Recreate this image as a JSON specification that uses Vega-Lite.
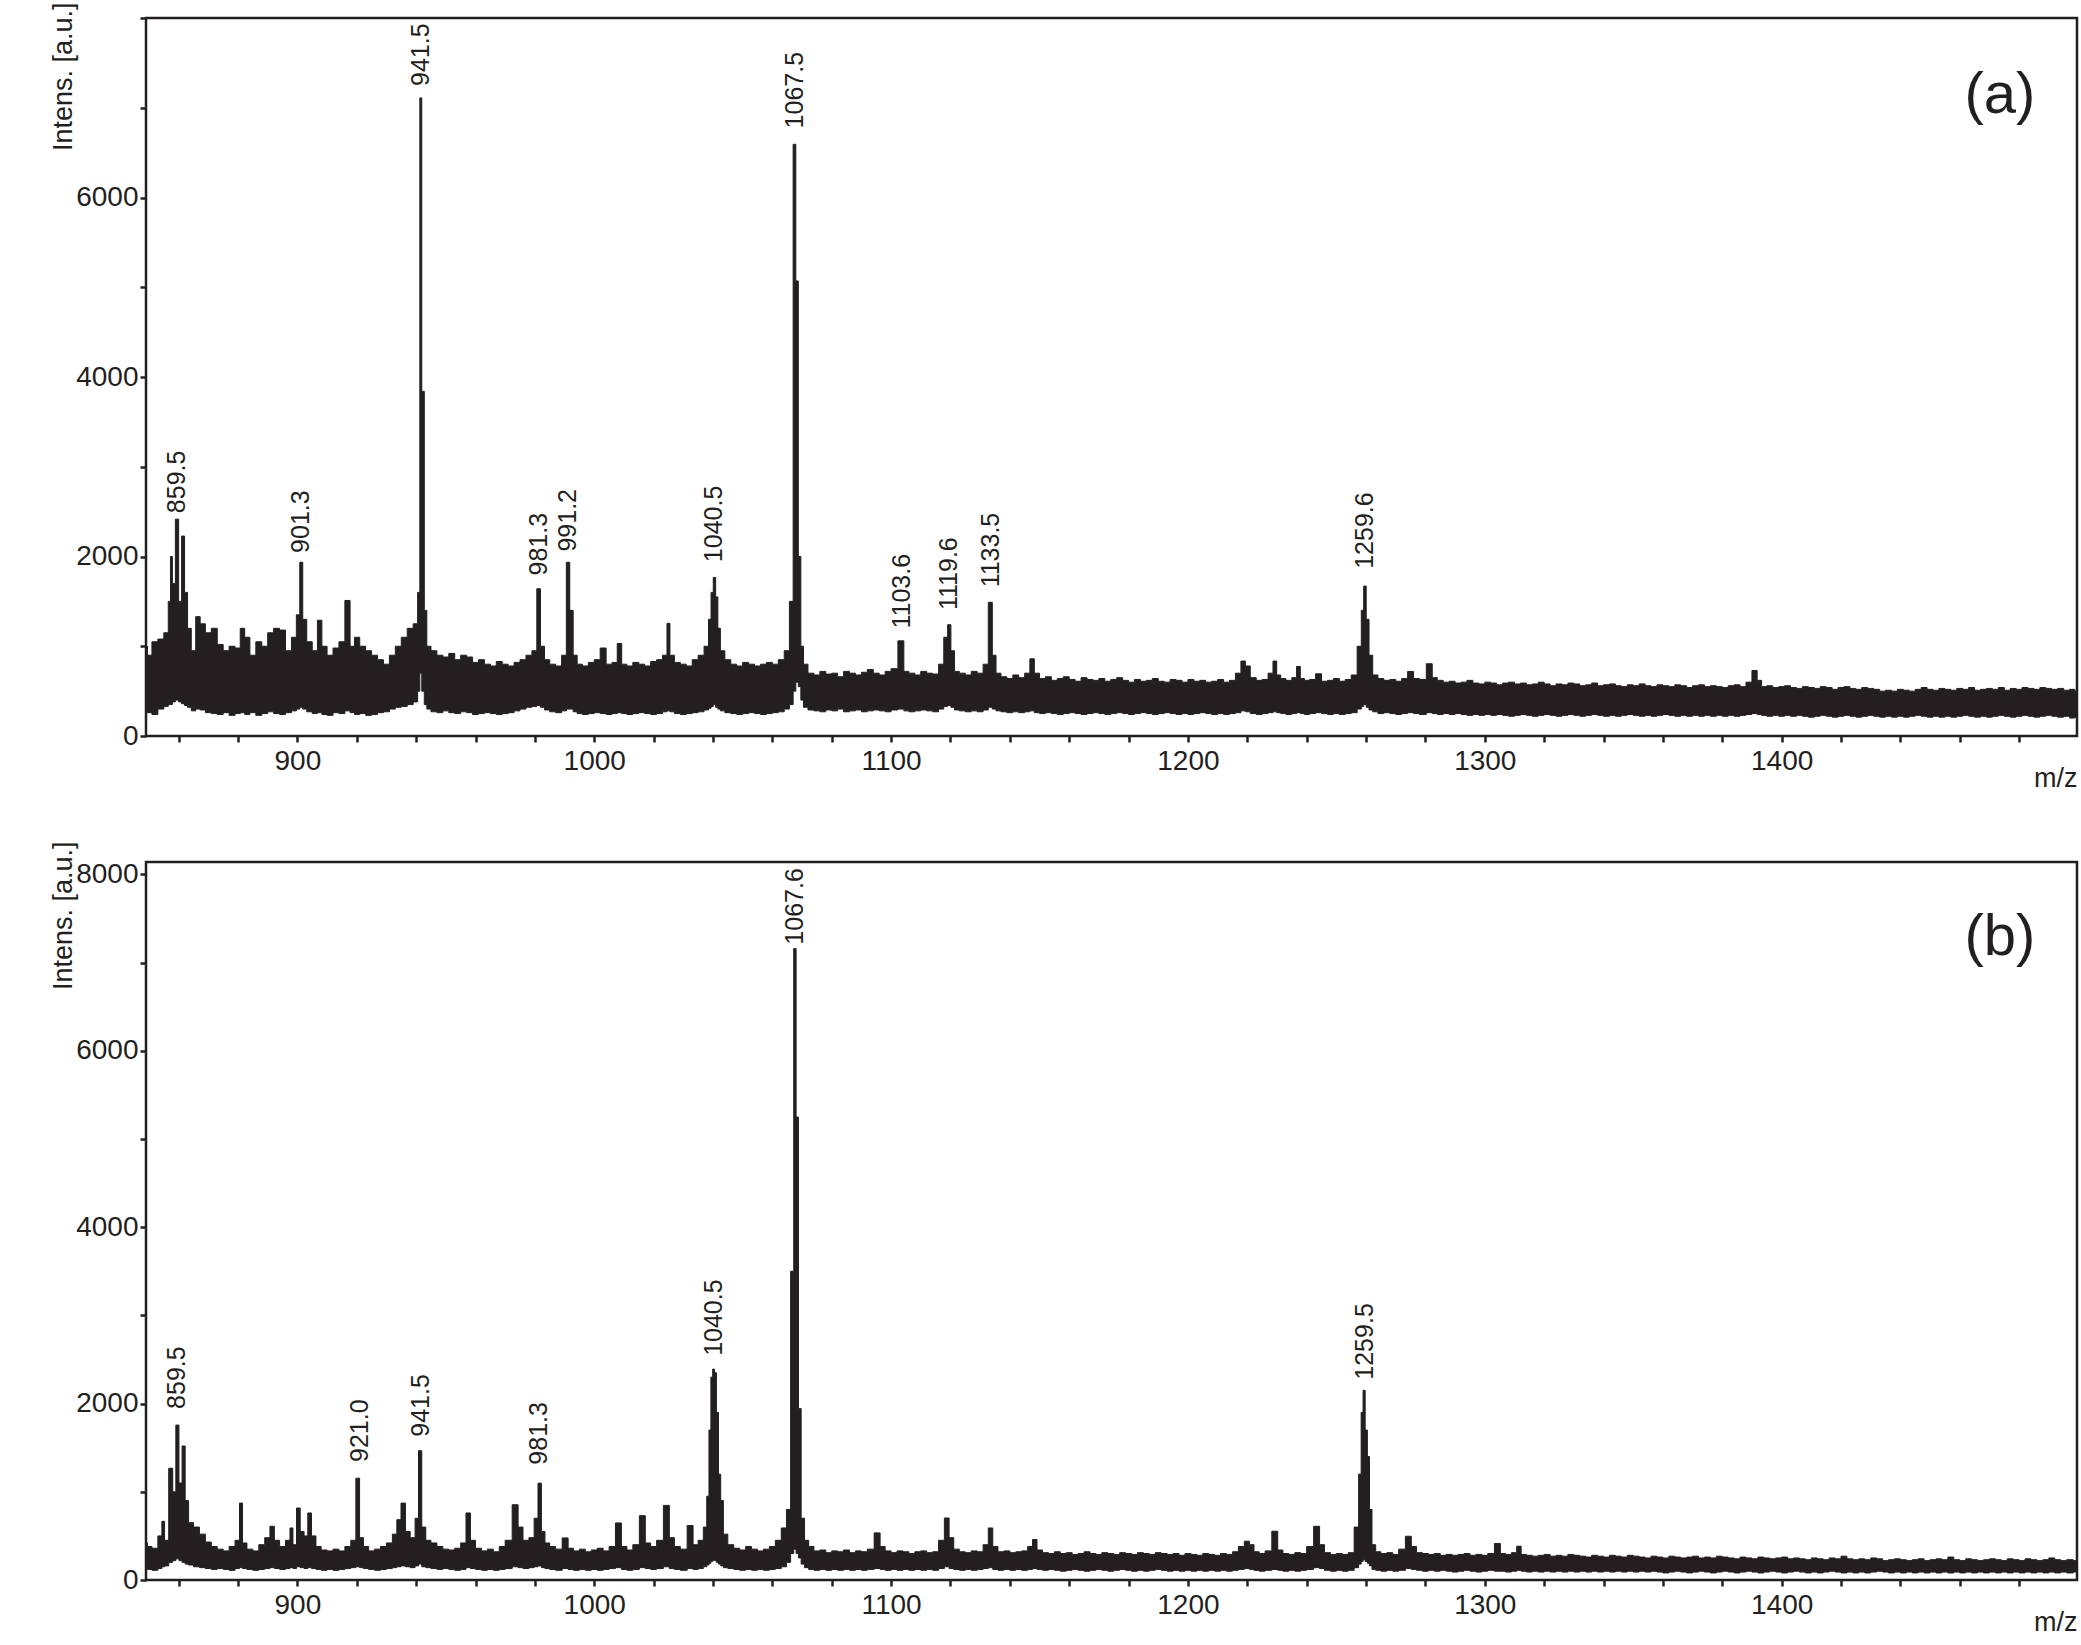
{
"$schema": "https://vega.github.io/schema/vega-lite/v6.json",
"background": "white",
"padding": {"left": 47, "top": 0, "right": 5, "bottom": 10},
"bounds": "flush",
"spacing": 126,
"config": {
  "font": "Liberation Sans Narrow, Liberation Sans, Arial",
  "view": {"stroke": "#231f20", "strokeWidth": 2.5},
  "axis": {"domain": false, "grid": false, "tickColor": "#231f20", "tickWidth": 2.5, "tickSize": 6, "labelColor": "#231f20", "labelFontSize": 28, "titleColor": "#231f20", "titleFontSize": 27, "titleFontWeight": "normal", "labelFont": "Liberation Sans Narrow, Liberation Sans, Arial", "titleFont": "Liberation Sans Narrow, Liberation Sans, Arial"}
},
"datasets": {
"a": [
{"mz":849,"lo":280,"hi":1000},{"mz":850,"lo":260,"hi":900},{"mz":852,"lo":240,"hi":1050},{"mz":854,"lo":300,"hi":1080},{"mz":856,"lo":330,"hi":1150},{"mz":857,"lo":350,"hi":1500},{"mz":857.5,"lo":350,"hi":2000},{"mz":858.3,"lo":380,"hi":1700},{"mz":859.5,"lo":400,"hi":2416},{"mz":860.5,"lo":380,"hi":1500},{"mz":861.5,"lo":360,"hi":2228},{"mz":862.5,"lo":340,"hi":1600},{"mz":863.5,"lo":320,"hi":1200},{"mz":865,"lo":280,"hi":950},{"mz":866.5,"lo":300,"hi":1330},{"mz":868,"lo":290,"hi":1250},{"mz":870,"lo":260,"hi":1150},{"mz":872,"lo":250,"hi":1200},{"mz":874,"lo":240,"hi":1020},{"mz":876,"lo":260,"hi":950},{"mz":878,"lo":230,"hi":1000},{"mz":880,"lo":250,"hi":980},{"mz":881.5,"lo":260,"hi":1200},{"mz":883,"lo":240,"hi":1100},{"mz":885,"lo":260,"hi":900},{"mz":887,"lo":230,"hi":1050},{"mz":889,"lo":250,"hi":1000},{"mz":891,"lo":270,"hi":1150},{"mz":893,"lo":250,"hi":1200},{"mz":895,"lo":240,"hi":1180},{"mz":897,"lo":260,"hi":950},{"mz":899,"lo":280,"hi":1100},{"mz":900.3,"lo":300,"hi":1350},{"mz":901.3,"lo":320,"hi":1936},{"mz":902.3,"lo":300,"hi":1300},{"mz":904,"lo":270,"hi":1050},{"mz":906,"lo":250,"hi":950},{"mz":907.5,"lo":260,"hi":1290},{"mz":909,"lo":240,"hi":1000},{"mz":911,"lo":230,"hi":900},{"mz":913,"lo":260,"hi":980},{"mz":915,"lo":250,"hi":1050},{"mz":917,"lo":280,"hi":1510},{"mz":918.5,"lo":260,"hi":1000},{"mz":920,"lo":240,"hi":1100},{"mz":922,"lo":250,"hi":1000},{"mz":924,"lo":230,"hi":950},{"mz":926,"lo":240,"hi":900},{"mz":928,"lo":260,"hi":850},{"mz":930,"lo":270,"hi":800},{"mz":932,"lo":300,"hi":900},{"mz":934,"lo":320,"hi":1000},{"mz":936,"lo":330,"hi":1100},{"mz":938,"lo":350,"hi":1200},{"mz":940,"lo":380,"hi":1250},{"mz":941,"lo":500,"hi":1600},{"mz":941.5,"lo":700,"hi":7110},{"mz":942.3,"lo":500,"hi":3840},{"mz":943.2,"lo":350,"hi":1400},{"mz":944,"lo":300,"hi":1000},{"mz":946,"lo":270,"hi":950},{"mz":948,"lo":260,"hi":900},{"mz":950,"lo":280,"hi":880},{"mz":952,"lo":260,"hi":920},{"mz":954,"lo":250,"hi":850},{"mz":956,"lo":270,"hi":900},{"mz":958,"lo":260,"hi":880},{"mz":960,"lo":240,"hi":820},{"mz":962,"lo":250,"hi":850},{"mz":964,"lo":260,"hi":800},{"mz":966,"lo":250,"hi":780},{"mz":968,"lo":240,"hi":830},{"mz":970,"lo":250,"hi":800},{"mz":972,"lo":260,"hi":780},{"mz":974,"lo":280,"hi":820},{"mz":976,"lo":300,"hi":850},{"mz":978,"lo":320,"hi":900},{"mz":980,"lo":330,"hi":950},{"mz":981.3,"lo":340,"hi":1640},{"mz":982.5,"lo":320,"hi":1000},{"mz":984,"lo":290,"hi":850},{"mz":986,"lo":270,"hi":800},{"mz":988,"lo":260,"hi":780},{"mz":990,"lo":280,"hi":900},{"mz":991.2,"lo":300,"hi":1936},{"mz":992.3,"lo":300,"hi":1400},{"mz":993.5,"lo":270,"hi":900},{"mz":995,"lo":250,"hi":800},{"mz":997,"lo":240,"hi":780},{"mz":999,"lo":250,"hi":820},{"mz":1001,"lo":260,"hi":850},{"mz":1003,"lo":250,"hi":980},{"mz":1005,"lo":240,"hi":800},{"mz":1007,"lo":250,"hi":820},{"mz":1008.5,"lo":260,"hi":1030},{"mz":1010,"lo":250,"hi":800},{"mz":1012,"lo":240,"hi":780},{"mz":1014,"lo":250,"hi":820},{"mz":1016,"lo":260,"hi":800},{"mz":1018,"lo":250,"hi":780},{"mz":1020,"lo":240,"hi":830},{"mz":1022,"lo":250,"hi":850},{"mz":1024,"lo":270,"hi":900},{"mz":1025,"lo":280,"hi":1255},{"mz":1026,"lo":270,"hi":900},{"mz":1028,"lo":250,"hi":820},{"mz":1030,"lo":240,"hi":800},{"mz":1032,"lo":250,"hi":780},{"mz":1034,"lo":260,"hi":850},{"mz":1036,"lo":270,"hi":900},{"mz":1038,"lo":290,"hi":1000},{"mz":1039,"lo":310,"hi":1300},{"mz":1039.7,"lo":330,"hi":1600},{"mz":1040.5,"lo":350,"hi":1767},{"mz":1041.3,"lo":320,"hi":1550},{"mz":1042,"lo":300,"hi":1200},{"mz":1043,"lo":280,"hi":950},{"mz":1045,"lo":260,"hi":850},{"mz":1047,"lo":250,"hi":800},{"mz":1049,"lo":240,"hi":780},{"mz":1051,"lo":250,"hi":820},{"mz":1053,"lo":260,"hi":800},{"mz":1055,"lo":250,"hi":780},{"mz":1057,"lo":240,"hi":800},{"mz":1059,"lo":250,"hi":820},{"mz":1061,"lo":260,"hi":800},{"mz":1063,"lo":270,"hi":850},{"mz":1065,"lo":300,"hi":950},{"mz":1066.5,"lo":350,"hi":1500},{"mz":1067.5,"lo":500,"hi":6593},{"mz":1068.3,"lo":600,"hi":5070},{"mz":1069.2,"lo":550,"hi":2000},{"mz":1070,"lo":400,"hi":1000},{"mz":1071,"lo":320,"hi":800},{"mz":1073,"lo":290,"hi":700},{"mz":1075,"lo":280,"hi":680},{"mz":1077,"lo":270,"hi":720},{"mz":1079,"lo":290,"hi":690},{"mz":1081,"lo":280,"hi":700},{"mz":1083,"lo":300,"hi":660},{"mz":1085,"lo":270,"hi":720},{"mz":1087,"lo":280,"hi":700},{"mz":1089,"lo":290,"hi":680},{"mz":1091,"lo":270,"hi":710},{"mz":1093,"lo":280,"hi":740},{"mz":1095,"lo":290,"hi":700},{"mz":1097,"lo":280,"hi":680},{"mz":1099,"lo":270,"hi":720},{"mz":1101,"lo":290,"hi":750},{"mz":1103.6,"lo":300,"hi":1060},{"mz":1105,"lo":280,"hi":720},{"mz":1107,"lo":270,"hi":700},{"mz":1109,"lo":280,"hi":680},{"mz":1111,"lo":290,"hi":720},{"mz":1113,"lo":280,"hi":700},{"mz":1115,"lo":270,"hi":690},{"mz":1117,"lo":300,"hi":800},{"mz":1118.5,"lo":330,"hi":1100},{"mz":1119.6,"lo":340,"hi":1240},{"mz":1120.7,"lo":320,"hi":950},{"mz":1122,"lo":290,"hi":720},{"mz":1124,"lo":280,"hi":700},{"mz":1126,"lo":270,"hi":680},{"mz":1128,"lo":280,"hi":720},{"mz":1130,"lo":270,"hi":700},{"mz":1132,"lo":290,"hi":800},{"mz":1133.5,"lo":320,"hi":1490},{"mz":1134.7,"lo":300,"hi":900},{"mz":1136,"lo":280,"hi":700},{"mz":1138,"lo":270,"hi":660},{"mz":1140,"lo":260,"hi":640},{"mz":1142,"lo":270,"hi":680},{"mz":1144,"lo":260,"hi":650},{"mz":1146,"lo":270,"hi":700},{"mz":1147.5,"lo":280,"hi":860},{"mz":1149,"lo":260,"hi":700},{"mz":1151,"lo":250,"hi":640},{"mz":1153,"lo":260,"hi":660},{"mz":1155,"lo":250,"hi":620},{"mz":1157,"lo":240,"hi":640},{"mz":1159,"lo":250,"hi":660},{"mz":1161,"lo":260,"hi":630},{"mz":1163,"lo":250,"hi":610},{"mz":1165,"lo":240,"hi":650},{"mz":1167,"lo":250,"hi":630},{"mz":1169,"lo":260,"hi":620},{"mz":1171,"lo":250,"hi":640},{"mz":1173,"lo":240,"hi":610},{"mz":1175,"lo":250,"hi":630},{"mz":1177,"lo":260,"hi":650},{"mz":1179,"lo":250,"hi":620},{"mz":1181,"lo":240,"hi":600},{"mz":1183,"lo":250,"hi":630},{"mz":1185,"lo":260,"hi":610},{"mz":1187,"lo":250,"hi":620},{"mz":1189,"lo":240,"hi":640},{"mz":1191,"lo":250,"hi":610},{"mz":1193,"lo":260,"hi":600},{"mz":1195,"lo":250,"hi":630},{"mz":1197,"lo":240,"hi":620},{"mz":1199,"lo":250,"hi":600},{"mz":1201,"lo":240,"hi":630},{"mz":1203,"lo":250,"hi":610},{"mz":1205,"lo":260,"hi":620},{"mz":1207,"lo":250,"hi":600},{"mz":1209,"lo":240,"hi":610},{"mz":1211,"lo":250,"hi":630},{"mz":1213,"lo":240,"hi":600},{"mz":1215,"lo":250,"hi":620},{"mz":1217,"lo":260,"hi":700},{"mz":1218.7,"lo":280,"hi":835},{"mz":1220,"lo":270,"hi":780},{"mz":1222,"lo":250,"hi":650},{"mz":1224,"lo":240,"hi":620},{"mz":1226,"lo":250,"hi":630},{"mz":1228,"lo":260,"hi":700},{"mz":1229.3,"lo":270,"hi":835},{"mz":1230.5,"lo":260,"hi":680},{"mz":1232,"lo":250,"hi":640},{"mz":1234,"lo":240,"hi":620},{"mz":1236,"lo":250,"hi":650},{"mz":1237.2,"lo":260,"hi":775},{"mz":1238.5,"lo":250,"hi":640},{"mz":1240,"lo":240,"hi":620},{"mz":1242,"lo":250,"hi":630},{"mz":1244,"lo":260,"hi":693},{"mz":1246,"lo":250,"hi":610},{"mz":1248,"lo":240,"hi":620},{"mz":1250,"lo":250,"hi":640},{"mz":1252,"lo":240,"hi":610},{"mz":1254,"lo":250,"hi":630},{"mz":1256,"lo":260,"hi":680},{"mz":1258,"lo":300,"hi":1000},{"mz":1258.8,"lo":330,"hi":1400},{"mz":1259.6,"lo":350,"hi":1670},{"mz":1260.5,"lo":320,"hi":1300},{"mz":1261.5,"lo":290,"hi":900},{"mz":1263,"lo":270,"hi":680},{"mz":1265,"lo":250,"hi":640},{"mz":1267,"lo":260,"hi":620},{"mz":1269,"lo":250,"hi":630},{"mz":1271,"lo":240,"hi":610},{"mz":1273,"lo":250,"hi":640},{"mz":1275,"lo":260,"hi":719},{"mz":1277,"lo":250,"hi":640},{"mz":1279,"lo":240,"hi":630},{"mz":1281.6,"lo":260,"hi":805},{"mz":1283,"lo":250,"hi":650},{"mz":1285,"lo":240,"hi":620},{"mz":1287,"lo":250,"hi":600},{"mz":1289,"lo":240,"hi":610},{"mz":1291,"lo":250,"hi":590},{"mz":1293,"lo":240,"hi":600},{"mz":1295,"lo":230,"hi":620},{"mz":1297,"lo":240,"hi":590},{"mz":1299,"lo":230,"hi":580},{"mz":1301,"lo":240,"hi":600},{"mz":1303,"lo":230,"hi":590},{"mz":1305,"lo":240,"hi":570},{"mz":1307,"lo":230,"hi":590},{"mz":1309,"lo":220,"hi":600},{"mz":1311,"lo":230,"hi":580},{"mz":1313,"lo":240,"hi":590},{"mz":1315,"lo":230,"hi":570},{"mz":1317,"lo":220,"hi":580},{"mz":1319,"lo":230,"hi":600},{"mz":1321,"lo":240,"hi":580},{"mz":1323,"lo":230,"hi":560},{"mz":1325,"lo":220,"hi":580},{"mz":1327,"lo":230,"hi":570},{"mz":1329,"lo":240,"hi":590},{"mz":1331,"lo":230,"hi":580},{"mz":1333,"lo":220,"hi":560},{"mz":1335,"lo":230,"hi":570},{"mz":1337,"lo":240,"hi":590},{"mz":1339,"lo":230,"hi":560},{"mz":1341,"lo":220,"hi":570},{"mz":1343,"lo":230,"hi":580},{"mz":1345,"lo":220,"hi":560},{"mz":1347,"lo":230,"hi":550},{"mz":1349,"lo":240,"hi":570},{"mz":1351,"lo":230,"hi":560},{"mz":1353,"lo":220,"hi":580},{"mz":1355,"lo":230,"hi":560},{"mz":1357,"lo":220,"hi":550},{"mz":1359,"lo":230,"hi":570},{"mz":1361,"lo":240,"hi":560},{"mz":1363,"lo":230,"hi":550},{"mz":1365,"lo":220,"hi":570},{"mz":1367,"lo":230,"hi":560},{"mz":1369,"lo":220,"hi":540},{"mz":1371,"lo":230,"hi":560},{"mz":1373,"lo":220,"hi":570},{"mz":1375,"lo":230,"hi":550},{"mz":1377,"lo":220,"hi":560},{"mz":1379,"lo":230,"hi":550},{"mz":1381,"lo":220,"hi":540},{"mz":1383,"lo":230,"hi":560},{"mz":1385,"lo":220,"hi":570},{"mz":1387,"lo":230,"hi":550},{"mz":1389,"lo":240,"hi":600},{"mz":1391,"lo":250,"hi":730},{"mz":1392.5,"lo":240,"hi":620},{"mz":1394,"lo":230,"hi":550},{"mz":1396,"lo":220,"hi":560},{"mz":1398,"lo":230,"hi":540},{"mz":1400,"lo":220,"hi":550},{"mz":1402,"lo":230,"hi":560},{"mz":1404,"lo":220,"hi":540},{"mz":1406,"lo":230,"hi":530},{"mz":1408,"lo":220,"hi":550},{"mz":1410,"lo":210,"hi":540},{"mz":1412,"lo":220,"hi":530},{"mz":1414,"lo":230,"hi":550},{"mz":1416,"lo":220,"hi":540},{"mz":1418,"lo":210,"hi":520},{"mz":1420,"lo":220,"hi":540},{"mz":1422,"lo":230,"hi":550},{"mz":1424,"lo":220,"hi":530},{"mz":1426,"lo":210,"hi":520},{"mz":1428,"lo":220,"hi":540},{"mz":1430,"lo":230,"hi":530},{"mz":1432,"lo":220,"hi":520},{"mz":1434,"lo":210,"hi":500},{"mz":1436,"lo":220,"hi":510},{"mz":1438,"lo":210,"hi":500},{"mz":1440,"lo":220,"hi":520},{"mz":1442,"lo":210,"hi":510},{"mz":1444,"lo":220,"hi":500},{"mz":1446,"lo":230,"hi":520},{"mz":1448,"lo":220,"hi":540},{"mz":1450,"lo":210,"hi":520},{"mz":1452,"lo":220,"hi":510},{"mz":1454,"lo":210,"hi":530},{"mz":1456,"lo":220,"hi":520},{"mz":1458,"lo":210,"hi":510},{"mz":1460,"lo":220,"hi":530},{"mz":1462,"lo":230,"hi":520},{"mz":1464,"lo":220,"hi":540},{"mz":1466,"lo":210,"hi":510},{"mz":1468,"lo":220,"hi":520},{"mz":1470,"lo":210,"hi":530},{"mz":1472,"lo":220,"hi":520},{"mz":1474,"lo":230,"hi":540},{"mz":1476,"lo":220,"hi":510},{"mz":1478,"lo":210,"hi":530},{"mz":1480,"lo":220,"hi":520},{"mz":1482,"lo":230,"hi":540},{"mz":1484,"lo":220,"hi":530},{"mz":1486,"lo":210,"hi":520},{"mz":1488,"lo":220,"hi":540},{"mz":1490,"lo":230,"hi":530},{"mz":1492,"lo":220,"hi":520},{"mz":1494,"lo":210,"hi":530},{"mz":1496,"lo":220,"hi":510},{"mz":1498,"lo":200,"hi":520},{"mz":1499.5,"lo":210,"hi":500}
],
"b": [
{"mz":849,"lo":130,"hi":420},{"mz":850,"lo":120,"hi":380},{"mz":852,"lo":110,"hi":360},{"mz":854,"lo":130,"hi":500},{"mz":854.7,"lo":150,"hi":665},{"mz":855.8,"lo":160,"hi":450},{"mz":857.5,"lo":200,"hi":1267},{"mz":858.5,"lo":220,"hi":1000},{"mz":859.6,"lo":240,"hi":1756},{"mz":860.6,"lo":220,"hi":1100},{"mz":861.7,"lo":200,"hi":1519},{"mz":862.7,"lo":180,"hi":900},{"mz":864,"lo":170,"hi":650},{"mz":866,"lo":150,"hi":600},{"mz":868,"lo":140,"hi":520},{"mz":870,"lo":130,"hi":430},{"mz":872,"lo":120,"hi":380},{"mz":874,"lo":130,"hi":350},{"mz":876,"lo":120,"hi":330},{"mz":878,"lo":110,"hi":380},{"mz":880,"lo":130,"hi":450},{"mz":881,"lo":140,"hi":872},{"mz":882,"lo":130,"hi":420},{"mz":884,"lo":120,"hi":350},{"mz":886,"lo":110,"hi":330},{"mz":888,"lo":120,"hi":400},{"mz":890,"lo":130,"hi":480},{"mz":891.5,"lo":140,"hi":609},{"mz":893,"lo":130,"hi":450},{"mz":895,"lo":120,"hi":380},{"mz":897,"lo":130,"hi":450},{"mz":898,"lo":140,"hi":590},{"mz":899,"lo":130,"hi":400},{"mz":900.4,"lo":150,"hi":816},{"mz":901.5,"lo":140,"hi":550},{"mz":903,"lo":130,"hi":500},{"mz":904,"lo":140,"hi":760},{"mz":905.5,"lo":130,"hi":500},{"mz":907,"lo":120,"hi":380},{"mz":909,"lo":110,"hi":340},{"mz":911,"lo":120,"hi":330},{"mz":913,"lo":110,"hi":350},{"mz":915,"lo":120,"hi":330},{"mz":917,"lo":130,"hi":380},{"mz":919,"lo":140,"hi":450},{"mz":920.4,"lo":150,"hi":1154},{"mz":921.5,"lo":140,"hi":480},{"mz":923,"lo":130,"hi":380},{"mz":925,"lo":120,"hi":330},{"mz":927,"lo":110,"hi":350},{"mz":929,"lo":120,"hi":380},{"mz":931,"lo":130,"hi":420},{"mz":933,"lo":140,"hi":520},{"mz":934,"lo":150,"hi":684},{"mz":935.8,"lo":160,"hi":872},{"mz":937,"lo":150,"hi":550},{"mz":939,"lo":140,"hi":480},{"mz":940.3,"lo":160,"hi":700},{"mz":941.3,"lo":180,"hi":1466},{"mz":942.5,"lo":150,"hi":600},{"mz":944,"lo":140,"hi":450},{"mz":946,"lo":130,"hi":420},{"mz":948,"lo":120,"hi":380},{"mz":950,"lo":130,"hi":350},{"mz":952,"lo":120,"hi":340},{"mz":954,"lo":110,"hi":360},{"mz":956,"lo":120,"hi":420},{"mz":957.6,"lo":140,"hi":760},{"mz":959,"lo":130,"hi":450},{"mz":961,"lo":120,"hi":360},{"mz":963,"lo":110,"hi":330},{"mz":965,"lo":120,"hi":350},{"mz":967,"lo":110,"hi":320},{"mz":969,"lo":120,"hi":380},{"mz":971,"lo":130,"hi":450},{"mz":973.7,"lo":150,"hi":853},{"mz":975,"lo":140,"hi":600},{"mz":977,"lo":130,"hi":450},{"mz":979,"lo":140,"hi":480},{"mz":980.5,"lo":150,"hi":700},{"mz":981.6,"lo":160,"hi":1098},{"mz":982.8,"lo":140,"hi":550},{"mz":984,"lo":130,"hi":420},{"mz":986,"lo":120,"hi":380},{"mz":988,"lo":110,"hi":350},{"mz":990.4,"lo":130,"hi":477},{"mz":992,"lo":120,"hi":360},{"mz":994,"lo":110,"hi":330},{"mz":996,"lo":120,"hi":350},{"mz":998,"lo":110,"hi":320},{"mz":1000,"lo":120,"hi":340},{"mz":1002,"lo":110,"hi":360},{"mz":1004,"lo":120,"hi":330},{"mz":1006,"lo":130,"hi":380},{"mz":1008.3,"lo":140,"hi":647},{"mz":1010,"lo":120,"hi":380},{"mz":1012,"lo":110,"hi":340},{"mz":1014,"lo":120,"hi":400},{"mz":1016.4,"lo":140,"hi":729},{"mz":1018,"lo":130,"hi":420},{"mz":1020,"lo":120,"hi":380},{"mz":1022,"lo":130,"hi":450},{"mz":1024.6,"lo":150,"hi":846},{"mz":1026,"lo":130,"hi":480},{"mz":1028,"lo":120,"hi":380},{"mz":1030,"lo":110,"hi":350},{"mz":1032.6,"lo":130,"hi":617},{"mz":1034,"lo":120,"hi":400},{"mz":1036,"lo":130,"hi":450},{"mz":1037.5,"lo":150,"hi":600},{"mz":1038.3,"lo":170,"hi":950},{"mz":1039,"lo":190,"hi":1700},{"mz":1039.6,"lo":210,"hi":2300},{"mz":1040.2,"lo":220,"hi":2391},{"mz":1040.8,"lo":220,"hi":2350},{"mz":1041.5,"lo":200,"hi":1900},{"mz":1042.2,"lo":180,"hi":1200},{"mz":1043,"lo":160,"hi":900},{"mz":1044,"lo":140,"hi":520},{"mz":1046,"lo":130,"hi":400},{"mz":1048,"lo":120,"hi":360},{"mz":1050,"lo":110,"hi":340},{"mz":1052,"lo":120,"hi":380},{"mz":1054,"lo":110,"hi":350},{"mz":1056,"lo":120,"hi":330},{"mz":1058,"lo":110,"hi":350},{"mz":1060,"lo":120,"hi":380},{"mz":1062,"lo":130,"hi":450},{"mz":1064,"lo":150,"hi":590},{"mz":1065.5,"lo":200,"hi":800},{"mz":1066.8,"lo":300,"hi":3500},{"mz":1067.6,"lo":350,"hi":7158},{"mz":1068.4,"lo":300,"hi":5248},{"mz":1069.2,"lo":250,"hi":1943},{"mz":1070.2,"lo":180,"hi":700},{"mz":1071.5,"lo":140,"hi":450},{"mz":1073,"lo":120,"hi":380},{"mz":1075,"lo":110,"hi":330},{"mz":1077,"lo":120,"hi":340},{"mz":1079,"lo":110,"hi":310},{"mz":1081,"lo":120,"hi":330},{"mz":1083,"lo":110,"hi":320},{"mz":1085,"lo":120,"hi":340},{"mz":1087,"lo":110,"hi":310},{"mz":1089,"lo":120,"hi":330},{"mz":1091,"lo":110,"hi":320},{"mz":1093,"lo":120,"hi":350},{"mz":1095.6,"lo":130,"hi":534},{"mz":1097,"lo":120,"hi":380},{"mz":1099,"lo":110,"hi":330},{"mz":1101,"lo":120,"hi":310},{"mz":1103,"lo":110,"hi":330},{"mz":1105,"lo":120,"hi":320},{"mz":1107,"lo":110,"hi":300},{"mz":1109,"lo":120,"hi":320},{"mz":1111,"lo":110,"hi":330},{"mz":1113,"lo":120,"hi":310},{"mz":1115,"lo":110,"hi":320},{"mz":1117,"lo":130,"hi":450},{"mz":1118.9,"lo":150,"hi":703},{"mz":1120.2,"lo":130,"hi":480},{"mz":1122,"lo":120,"hi":350},{"mz":1124,"lo":110,"hi":320},{"mz":1126,"lo":120,"hi":310},{"mz":1128,"lo":110,"hi":330},{"mz":1130,"lo":120,"hi":320},{"mz":1132,"lo":130,"hi":400},{"mz":1133.5,"lo":140,"hi":590},{"mz":1135,"lo":120,"hi":380},{"mz":1137,"lo":110,"hi":320},{"mz":1139,"lo":120,"hi":330},{"mz":1141,"lo":110,"hi":310},{"mz":1143,"lo":120,"hi":320},{"mz":1145,"lo":110,"hi":330},{"mz":1147,"lo":120,"hi":380},{"mz":1148.3,"lo":130,"hi":459},{"mz":1150,"lo":120,"hi":340},{"mz":1152,"lo":110,"hi":310},{"mz":1154,"lo":120,"hi":300},{"mz":1156,"lo":110,"hi":320},{"mz":1158,"lo":100,"hi":300},{"mz":1160,"lo":110,"hi":310},{"mz":1162,"lo":120,"hi":290},{"mz":1164,"lo":110,"hi":300},{"mz":1166,"lo":100,"hi":320},{"mz":1168,"lo":110,"hi":300},{"mz":1170,"lo":120,"hi":290},{"mz":1172,"lo":110,"hi":310},{"mz":1174,"lo":100,"hi":300},{"mz":1176,"lo":110,"hi":290},{"mz":1178,"lo":120,"hi":310},{"mz":1180,"lo":110,"hi":300},{"mz":1182,"lo":100,"hi":290},{"mz":1184,"lo":110,"hi":310},{"mz":1186,"lo":100,"hi":300},{"mz":1188,"lo":110,"hi":290},{"mz":1190,"lo":120,"hi":310},{"mz":1192,"lo":110,"hi":300},{"mz":1194,"lo":100,"hi":290},{"mz":1196,"lo":110,"hi":300},{"mz":1198,"lo":100,"hi":280},{"mz":1200,"lo":110,"hi":300},{"mz":1202,"lo":100,"hi":290},{"mz":1204,"lo":110,"hi":280},{"mz":1206,"lo":100,"hi":300},{"mz":1208,"lo":110,"hi":290},{"mz":1210,"lo":100,"hi":280},{"mz":1212,"lo":110,"hi":300},{"mz":1214,"lo":100,"hi":290},{"mz":1216,"lo":110,"hi":320},{"mz":1218,"lo":120,"hi":380},{"mz":1220,"lo":130,"hi":440},{"mz":1221.5,"lo":120,"hi":400},{"mz":1223,"lo":110,"hi":320},{"mz":1225,"lo":100,"hi":300},{"mz":1227,"lo":110,"hi":330},{"mz":1229.5,"lo":120,"hi":553},{"mz":1231,"lo":110,"hi":340},{"mz":1233,"lo":100,"hi":300},{"mz":1235,"lo":110,"hi":290},{"mz":1237,"lo":100,"hi":310},{"mz":1239,"lo":110,"hi":300},{"mz":1241,"lo":120,"hi":380},{"mz":1243.7,"lo":140,"hi":609},{"mz":1245,"lo":130,"hi":400},{"mz":1247,"lo":110,"hi":310},{"mz":1249,"lo":100,"hi":290},{"mz":1251,"lo":110,"hi":300},{"mz":1253,"lo":100,"hi":290},{"mz":1255,"lo":110,"hi":310},{"mz":1257,"lo":140,"hi":600},{"mz":1258,"lo":180,"hi":1200},{"mz":1258.7,"lo":210,"hi":1900},{"mz":1259.3,"lo":230,"hi":2150},{"mz":1260.1,"lo":210,"hi":1700},{"mz":1260.8,"lo":190,"hi":1400},{"mz":1261.5,"lo":160,"hi":800},{"mz":1262.5,"lo":120,"hi":400},{"mz":1264,"lo":110,"hi":320},{"mz":1266,"lo":100,"hi":300},{"mz":1268,"lo":110,"hi":310},{"mz":1270,"lo":100,"hi":290},{"mz":1272,"lo":110,"hi":350},{"mz":1274.5,"lo":130,"hi":496},{"mz":1276,"lo":120,"hi":380},{"mz":1278,"lo":110,"hi":310},{"mz":1280,"lo":100,"hi":300},{"mz":1282,"lo":110,"hi":290},{"mz":1284,"lo":100,"hi":300},{"mz":1286,"lo":110,"hi":280},{"mz":1288,"lo":100,"hi":290},{"mz":1290,"lo":90,"hi":280},{"mz":1292,"lo":100,"hi":290},{"mz":1294,"lo":110,"hi":300},{"mz":1296,"lo":100,"hi":280},{"mz":1298,"lo":90,"hi":290},{"mz":1300,"lo":100,"hi":280},{"mz":1302,"lo":110,"hi":300},{"mz":1304.5,"lo":100,"hi":414},{"mz":1306,"lo":100,"hi":300},{"mz":1308,"lo":90,"hi":290},{"mz":1310,"lo":100,"hi":310},{"mz":1311.5,"lo":110,"hi":383},{"mz":1313,"lo":100,"hi":290},{"mz":1315,"lo":90,"hi":280},{"mz":1317,"lo":100,"hi":270},{"mz":1319,"lo":90,"hi":280},{"mz":1321,"lo":100,"hi":290},{"mz":1323,"lo":90,"hi":270},{"mz":1325,"lo":100,"hi":280},{"mz":1327,"lo":90,"hi":270},{"mz":1329,"lo":100,"hi":290},{"mz":1331,"lo":90,"hi":280},{"mz":1333,"lo":100,"hi":270},{"mz":1335,"lo":90,"hi":260},{"mz":1337,"lo":100,"hi":280},{"mz":1339,"lo":90,"hi":270},{"mz":1341,"lo":100,"hi":260},{"mz":1343,"lo":90,"hi":280},{"mz":1345,"lo":100,"hi":270},{"mz":1347,"lo":90,"hi":260},{"mz":1349,"lo":100,"hi":280},{"mz":1351,"lo":90,"hi":270},{"mz":1353,"lo":100,"hi":260},{"mz":1355,"lo":90,"hi":250},{"mz":1357,"lo":100,"hi":270},{"mz":1359,"lo":90,"hi":260},{"mz":1361,"lo":80,"hi":250},{"mz":1363,"lo":90,"hi":270},{"mz":1365,"lo":100,"hi":260},{"mz":1367,"lo":90,"hi":250},{"mz":1369,"lo":80,"hi":260},{"mz":1371,"lo":90,"hi":270},{"mz":1373,"lo":100,"hi":250},{"mz":1375,"lo":90,"hi":260},{"mz":1377,"lo":80,"hi":250},{"mz":1379,"lo":90,"hi":270},{"mz":1381,"lo":100,"hi":260},{"mz":1383,"lo":90,"hi":250},{"mz":1385,"lo":80,"hi":240},{"mz":1387,"lo":90,"hi":260},{"mz":1389,"lo":100,"hi":250},{"mz":1391,"lo":90,"hi":240},{"mz":1393,"lo":80,"hi":260},{"mz":1395,"lo":90,"hi":250},{"mz":1397,"lo":100,"hi":240},{"mz":1399,"lo":90,"hi":250},{"mz":1401,"lo":80,"hi":260},{"mz":1403,"lo":90,"hi":240},{"mz":1405,"lo":100,"hi":250},{"mz":1407,"lo":90,"hi":240},{"mz":1409,"lo":80,"hi":230},{"mz":1411,"lo":90,"hi":250},{"mz":1413,"lo":80,"hi":240},{"mz":1415,"lo":90,"hi":230},{"mz":1417,"lo":100,"hi":250},{"mz":1419,"lo":90,"hi":240},{"mz":1421,"lo":80,"hi":270},{"mz":1423,"lo":90,"hi":240},{"mz":1425,"lo":80,"hi":230},{"mz":1427,"lo":90,"hi":240},{"mz":1429,"lo":80,"hi":230},{"mz":1431,"lo":90,"hi":250},{"mz":1433,"lo":100,"hi":240},{"mz":1435,"lo":90,"hi":220},{"mz":1437,"lo":80,"hi":230},{"mz":1439,"lo":90,"hi":240},{"mz":1441,"lo":80,"hi":230},{"mz":1443,"lo":90,"hi":220},{"mz":1445,"lo":80,"hi":230},{"mz":1447,"lo":90,"hi":240},{"mz":1449,"lo":80,"hi":220},{"mz":1451,"lo":90,"hi":230},{"mz":1453,"lo":80,"hi":240},{"mz":1455,"lo":90,"hi":230},{"mz":1457,"lo":80,"hi":260},{"mz":1459,"lo":90,"hi":230},{"mz":1461,"lo":80,"hi":220},{"mz":1463,"lo":90,"hi":240},{"mz":1465,"lo":80,"hi":230},{"mz":1467,"lo":90,"hi":220},{"mz":1469,"lo":80,"hi":230},{"mz":1471,"lo":90,"hi":240},{"mz":1473,"lo":80,"hi":230},{"mz":1475,"lo":90,"hi":220},{"mz":1477,"lo":80,"hi":240},{"mz":1479,"lo":90,"hi":230},{"mz":1481,"lo":80,"hi":220},{"mz":1483,"lo":90,"hi":240},{"mz":1485,"lo":80,"hi":230},{"mz":1487,"lo":90,"hi":220},{"mz":1489,"lo":80,"hi":230},{"mz":1491,"lo":90,"hi":250},{"mz":1493,"lo":80,"hi":230},{"mz":1495,"lo":90,"hi":220},{"mz":1497,"lo":80,"hi":230},{"mz":1499.5,"lo":90,"hi":220}
],
"la": [
{"mz":859.5,"ly":2483,"t":"859.5"},{"mz":901.3,"ly":2040,"t":"901.3"},{"mz":941.5,"ly":7243,"t":"941.5"},{"mz":981.3,"ly":1789,"t":"981.3"},{"mz":991.2,"ly":2055,"t":"991.2"},{"mz":1040.5,"ly":1937,"t":"1040.5"},{"mz":1067.5,"ly":6770,"t":"1067.5"},{"mz":1103.6,"ly":1197,"t":"1103.6"},{"mz":1119.6,"ly":1404,"t":"1119.6"},{"mz":1133.5,"ly":1656,"t":"1133.5"},{"mz":1259.6,"ly":1863,"t":"1259.6"}
],
"lb": [
{"mz":859.5,"ly":1940,"t":"859.5"},{"mz":921.0,"ly":1338,"t":"921.0"},{"mz":941.5,"ly":1624,"t":"941.5"},{"mz":981.3,"ly":1308,"t":"981.3"},{"mz":1040.5,"ly":2541,"t":"1040.5"},{"mz":1067.6,"ly":7203,"t":"1067.6"},{"mz":1259.5,"ly":2271,"t":"1259.5"}
],
"pa": [{"mz":1473.5,"ly":7130,"t":"(a)"}],
"pb": [{"mz":1473.5,"ly":7280,"t":"(b)"}]
},
"vconcat": [
{
 "width": 1931, "height": 718,
 "layer": [
  {"data": {"name": "a"},
   "mark": {"type": "area", "interpolate": "step", "color": "#231f20", "stroke": "#231f20", "strokeWidth": 1, "clip": true},
   "encoding": {
     "x": {"field": "mz", "type": "quantitative", "scale": {"domain": [849, 1499.5], "nice": false, "zero": false},
           "axis": {"title": "m/z", "format": "d", "values": [860,880,900,920,940,960,980,1000,1020,1040,1060,1080,1100,1120,1140,1160,1180,1200,1220,1240,1260,1280,1300,1320,1340,1360,1380,1400,1420,1440,1460,1480], "labelExpr": "datum.value % 100 === 0 ? datum.label : ''", "labelPadding": 5, "labelFlush": false, "titleAnchor": "end", "titleAlign": "right", "titleX": 1931, "titleY": 50, "titleBaseline": "alphabetic"}},
     "y": {"field": "hi", "type": "quantitative", "scale": {"domain": [0, 8000], "nice": false},
           "axis": {"title": "Intens. [a.u.]", "format": "d", "values": [0,1000,2000,3000,4000,5000,6000,7000,8000], "labelExpr": "datum.value % 2000 === 0 && datum.value < 8000 ? datum.label : ''", "labelPadding": 2, "labelFlush": false, "titleX": -83, "titleY": -16, "titleAlign": "right", "titleAngle": 270, "titleBaseline": "middle"}},
     "y2": {"field": "lo"}
   }},
  {"data": {"name": "la"},
   "mark": {"type": "text", "angle": 270, "align": "left", "baseline": "middle", "fontSize": 25, "color": "#231f20"},
   "encoding": {"x": {"field": "mz", "type": "quantitative"}, "y": {"field": "ly", "type": "quantitative"}, "text": {"field": "t"}}},
  {"data": {"name": "pa"},
   "mark": {"type": "text", "align": "center", "baseline": "middle", "fontSize": 58, "color": "#231f20", "font": "Liberation Sans"},
   "encoding": {"x": {"field": "mz", "type": "quantitative"}, "y": {"field": "ly", "type": "quantitative"}, "text": {"field": "t"}}}
 ]
},
{
 "width": 1931, "height": 718,
 "layer": [
  {"data": {"name": "b"},
   "mark": {"type": "area", "interpolate": "step", "color": "#231f20", "stroke": "#231f20", "strokeWidth": 1, "clip": true},
   "encoding": {
     "x": {"field": "mz", "type": "quantitative", "scale": {"domain": [849, 1499.5], "nice": false, "zero": false},
           "axis": {"title": "m/z", "format": "d", "values": [860,880,900,920,940,960,980,1000,1020,1040,1060,1080,1100,1120,1140,1160,1180,1200,1220,1240,1260,1280,1300,1320,1340,1360,1380,1400,1420,1440,1460,1480], "labelExpr": "datum.value % 100 === 0 ? datum.label : ''", "labelPadding": 5, "labelFlush": false, "titleAnchor": "end", "titleAlign": "right", "titleX": 1931, "titleY": 50, "titleBaseline": "alphabetic"}},
     "y": {"field": "hi", "type": "quantitative", "scale": {"domain": [0, 8140], "nice": false},
           "axis": {"title": "Intens. [a.u.]", "format": "d", "values": [0,1000,2000,3000,4000,5000,6000,7000,8000], "labelExpr": "datum.value % 2000 === 0 ? datum.label : ''", "labelPadding": 2, "labelFlush": false, "titleX": -83, "titleY": -21, "titleAlign": "right", "titleAngle": 270, "titleBaseline": "middle"}},
     "y2": {"field": "lo"}
   }},
  {"data": {"name": "lb"},
   "mark": {"type": "text", "angle": 270, "align": "left", "baseline": "middle", "fontSize": 25, "color": "#231f20"},
   "encoding": {"x": {"field": "mz", "type": "quantitative"}, "y": {"field": "ly", "type": "quantitative"}, "text": {"field": "t"}}},
  {"data": {"name": "pb"},
   "mark": {"type": "text", "align": "center", "baseline": "middle", "fontSize": 58, "color": "#231f20", "font": "Liberation Sans"},
   "encoding": {"x": {"field": "mz", "type": "quantitative"}, "y": {"field": "ly", "type": "quantitative"}, "text": {"field": "t"}}}
 ]
}
]
}
